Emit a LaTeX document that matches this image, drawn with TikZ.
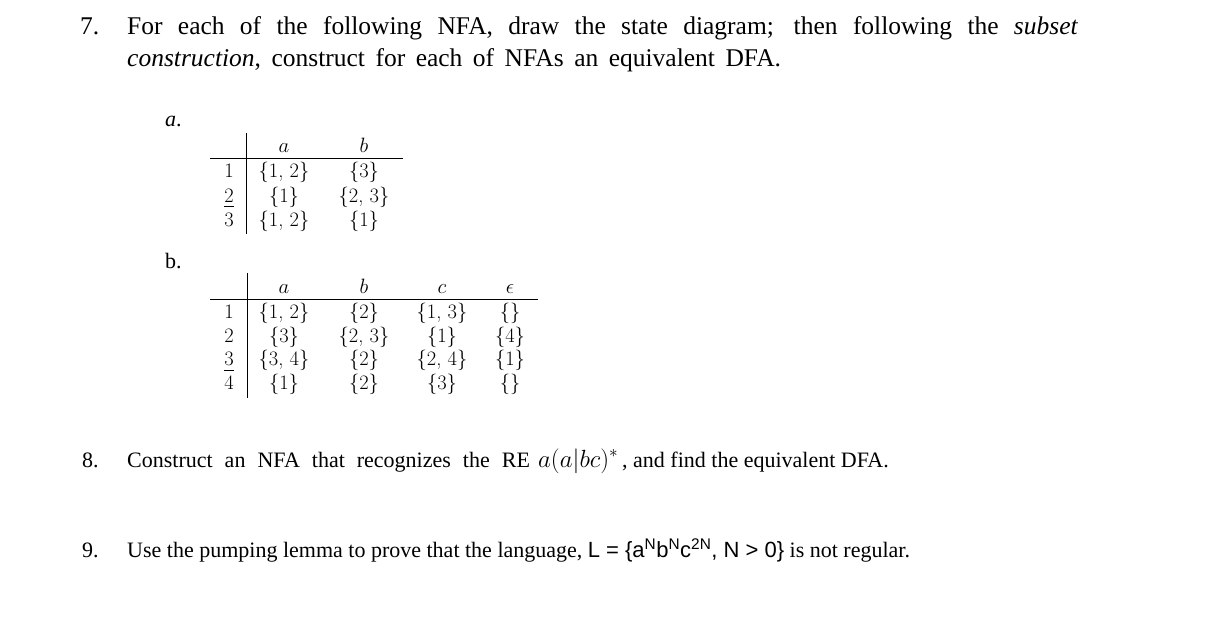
\documentclass[tikz,border=0pt]{standalone}
\usepackage{fontspec}
\setmainfont{Liberation Serif}
\newfontfamily\sansf{Liberation Sans}
\newfontfamily\lmr{Latin Modern Roman}
\begin{document}
\begin{tikzpicture}[x=1pt,y=-1pt,
  txt/.style={anchor=base west,inner sep=0pt,font=\fontsize{22}{26}\selectfont},
  big/.style={anchor=base west,inner sep=0pt,font=\fontsize{25.5}{31}\selectfont},
  cell/.style={anchor=base,inner sep=0pt,font=\lmr\fontsize{20.5}{22}\selectfont},
  rule/.style={line width=1pt}]
\useasboundingbox[fill=white] (0,0) rectangle (1220,625);
\node[big] (n7) at (80,34) {7.};
\node[big,text width=951pt,align=justify] (l7a) at (127,34) {\parfillskip=0pt For each of the following NFA, draw the state diagram; then following the \textit{subset}\par};
\node[big] (l7b) at (127,66) {\spaceskip=10.5pt \textit{construction}, construct for each of NFAs an equivalent DFA.};
\node[txt] (la) at (165,126) {\textit{a}.};
% table a
\draw[rule] (246,133) -- (246,234);
\draw[rule] (210,158) -- (403,158);
\node[cell] (ha) at (284,152) {$a$};
\node[cell] (hb) at (364,152) {$b$};
\foreach \r/\y/\u/\v in {1/177/{\{1, 2\}}/{\{3\}},2/202/{\{1\}}/{\{2, 3\}},3/226/{\{1, 2\}}/{\{1\}}}{
  \node[cell] (ra\r) at (229,\y) {\r};
  \node[cell] (aa\r) at (284,\y) {\u};
  \node[cell] (ab\r) at (364,\y) {\v};
}
\draw[line width=0.8pt] (224,206) -- (234,206);
\node[txt] (lb) at (165,268) {b.};
% table b
\draw[rule] (247,273) -- (247,398);
\draw[rule] (210,299) -- (538,299);
\node[cell] (hba) at (284,293) {$a$};
\node[cell] (hbb) at (364,293) {$b$};
\node[cell] (hbc) at (442,293) {$c$};
\node[cell] (hbe) at (510,293) {$\epsilon$};
\foreach \r/\y/\u/\v/\w/\z in {1/318/{\{1, 2\}}/{\{2\}}/{\{1, 3\}}/{\{\}},2/342/{\{3\}}/{\{2, 3\}}/{\{1\}}/{\{4\}},3/365/{\{3, 4\}}/{\{2\}}/{\{2, 4\}}/{\{1\}},4/389/{\{1\}}/{\{2\}}/{\{3\}}/{\{\}}}{
  \node[cell] (rb\r) at (229,\y) {\r};
  \node[cell] (ba\r) at (284,\y) {\u};
  \node[cell] (bb\r) at (364,\y) {\v};
  \node[cell] (bc\r) at (442,\y) {\w};
  \node[cell] (bd\r) at (510,\y) {\z};
}
\draw[line width=0.8pt] (224,370) -- (234,370);
\node[txt] (n8) at (82,467) {8.};
\node[txt] (l8) at (127,467) {\spaceskip=12pt Construct an NFA that recognizes the RE};
\node[anchor=base west,inner sep=0pt,font=\fontsize{27}{30}\selectfont] (m8) at (538,467) {$a(a|bc)^*$};
\node[txt] (l8b) at (622,467) {, and find the equivalent DFA.};
\node[txt] (n9) at (82,557) {9.};
\node[txt] (l9) at (127,557) {Use the pumping lemma to prove that the language, {\sansf L = \{a\textsuperscript{N}b\textsuperscript{N}c\textsuperscript{2N}, N > 0\}} is not regular.};
\end{tikzpicture}
\end{document}
